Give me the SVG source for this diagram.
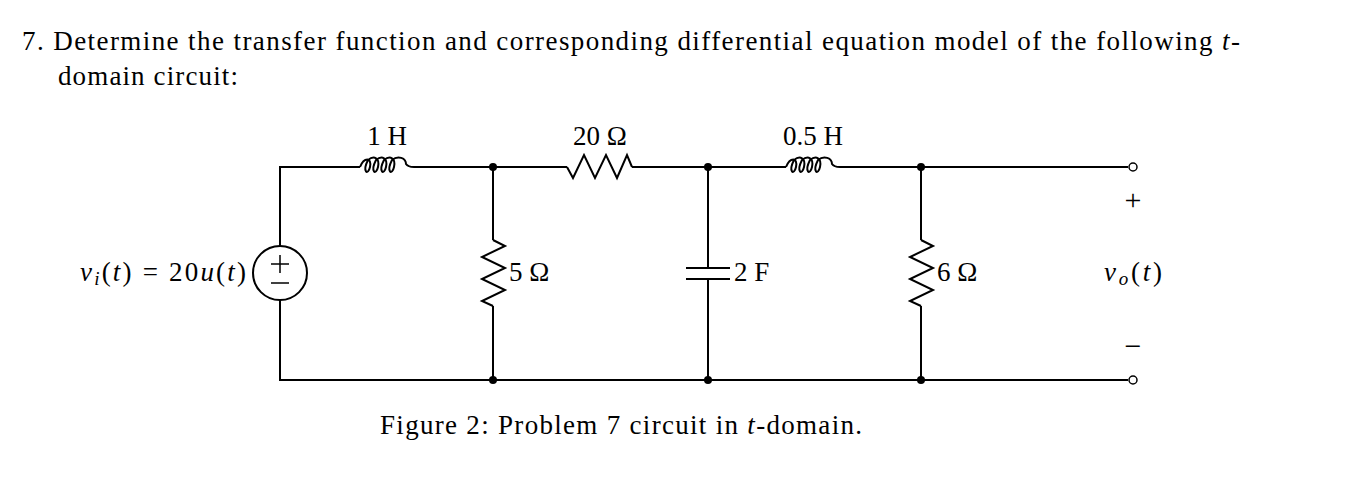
<svg xmlns="http://www.w3.org/2000/svg" width="1346" height="485" viewBox="0 0 1346 485">
<style>
.w{fill:none;stroke:#000;stroke-width:2;stroke-linejoin:miter}
.s{fill:none;stroke:#000;stroke-width:1.5}
.t{font-family:"Liberation Serif","DejaVu Serif",serif;font-size:27px;fill:#000}
.i{font-style:italic}
.sub{font-size:19px;font-style:italic}
.d{fill:#000}
</style>
<rect width="1346" height="485" fill="#fff"/>
<text class="t" x="22" y="50" textLength="1218" lengthAdjust="spacing">7. Determine the transfer function and corresponding differential equation model of the following <tspan class="i">t</tspan>-</text>
<text class="t" x="58" y="85" textLength="180" lengthAdjust="spacing">domain circuit:</text>
<g id="connectors">
<path class="w" d="M280,246 V167 H360 M414,167 H567 M632,167 H786 M840,167 H1128"/>
<path class="w" d="M280,300 V380 H1128"/>
<path class="w" d="M493,167 V240 M493,306 V380"/>
<path class="w" d="M708,167 V268 M708,279 V380"/>
<path class="w" d="M921,167 V240 M921,306 V380"/>
</g>
<g id="source">
<circle class="w" cx="280" cy="273" r="27"/>
<path class="s" d="M271,264 H289 M280,255 V273 M271,283 H289"/>
<text class="t" x="246" y="281" text-anchor="end" textLength="166" lengthAdjust="spacing"><tspan class="i">v</tspan><tspan class="sub" dy="4">i</tspan><tspan dy="-4">(</tspan><tspan class="i">t</tspan>) = 20<tspan class="i">u</tspan>(<tspan class="i">t</tspan>)</text>
</g>
<g id="L1">
<path class="w" d="M360,167 C364,157 372,157 370,167 C368,176 362,172 368,160 C374,155 380,158 378,167 C376,176 370,172 376,160 C382,155 388,158 386,167 C384,176 378,172 384,160 C390,155 396,158 394,167 C392,176 386,172 392,160 C398,155 406,158 406,164 Q408,167 414,167"/>
<text class="t" x="387" y="145" text-anchor="middle">1 H</text>
</g>
<g id="R20">
<path class="w" d="M567,167 L573,178 L584,155 L595,178 L606,155 L617,178 L627,155 L632,167"/>
<text class="t" x="600" y="145" text-anchor="middle">20 Ω</text>
</g>
<g id="R5">
<path class="w" d="M493,240 L505,246 L482,257 L505,268 L482,279 L505,290 L482,301 L493,306"/>
<text class="t" x="509" y="281">5 Ω</text>
</g>
<g id="C2">
<path class="w" d="M686,268 H730 M686,279 H730"/>
<text class="t" x="734" y="281">2 F</text>
</g>
<g id="L05">
<path class="w" d="M786,167 C790,157 798,157 796,167 C794,176 788,172 794,160 C800,155 806,158 804,167 C802,176 796,172 802,160 C808,155 814,158 812,167 C810,176 804,172 810,160 C816,155 822,158 820,167 C818,176 812,172 818,160 C824,155 832,158 832,164 Q834,167 840,167"/>
<text class="t" x="813" y="145" text-anchor="middle">0.5 H</text>
</g>
<g id="R6">
<path class="w" d="M921,240 L933,246 L910,257 L933,268 L910,279 L933,290 L910,301 L921,306"/>
<text class="t" x="937" y="281">6 Ω</text>
</g>
<g id="nodes">
<circle class="d" cx="493" cy="167" r="4"/><circle class="d" cx="708" cy="167" r="4"/><circle class="d" cx="921" cy="167" r="4"/>
<circle class="d" cx="493" cy="380" r="4"/><circle class="d" cx="708" cy="380" r="4"/><circle class="d" cx="921" cy="380" r="4"/>
<circle cx="1133" cy="167" r="4" fill="#fff" stroke="#000" stroke-width="1.5"/>
<circle cx="1133" cy="380" r="4" fill="#fff" stroke="#000" stroke-width="1.5"/>
</g>
<g id="output">
<text class="t" x="1133" y="210" text-anchor="middle" style="font-size:30px">+</text>
<text class="t" x="1133" y="281" text-anchor="middle" textLength="58" lengthAdjust="spacing"><tspan class="i">v</tspan><tspan class="sub" dy="4">o</tspan><tspan dy="-4">(</tspan><tspan class="i">t</tspan>)</text>
<text class="t" x="1133" y="356" text-anchor="middle" style="font-size:30px">−</text>
</g>
<text class="t" x="380" y="434" textLength="482" lengthAdjust="spacing">Figure 2: Problem 7 circuit in <tspan class="i">t</tspan>-domain.</text>
</svg>
